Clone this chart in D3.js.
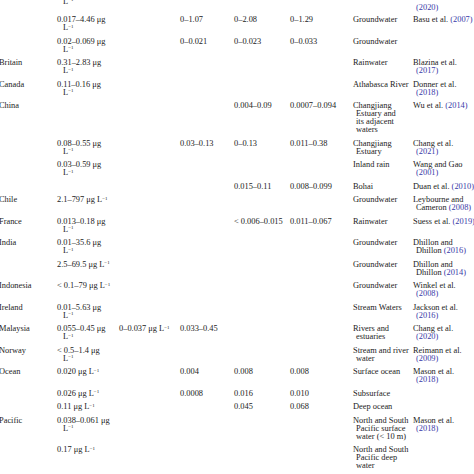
<!DOCTYPE html>
<html><head><meta charset="utf-8">
<script src="https://cdn.jsdelivr.net/npm/d3@7"></script>
<style>body{margin:0;background:#fff}svg text{font-family:"Liberation Serif","DejaVu Serif",serif;font-size:8.4px;fill:#222}</style>
</head><body><svg id="c" width="474" height="474"></svg>
<script>
// Table content: one entry per row, "|" separates wrapped lines
const countries = ["","","Britain","Canada","China","","","","Chile","France","India","","Indonesia","Ireland","Malaysia","Norway","Ocean","","","Pacific",""];
const totalRange = ["0.017–4.46 μg|L^-1","0.02–0.069 μg|L^-1","0.31–2.83 μg|L^-1","0.11–0.16 μg|L^-1","","0.08–0.55 μg|L^-1","0.03–0.59 μg|L^-1","","2.1–797 μg L^-1","0.013–0.18 μg|L^-1","0.01–35.6 μg|L^-1","2.5–69.5 μg L^-1","< 0.1–79 μg L^-1","0.01–5.63 μg|L^-1","0.055–0.45 μg|L^-1","< 0.5–1.4 μg|L^-1","0.020 μg L^-1","0.026 μg L^-1","0.11 μg L^-1","0.038–0.061 μg|L^-1","0.17 μg L^-1"];
const col2 = ["","","","","","","","","","","","","","","0–0.037 μg L^-1","","","","","",""];
const col3 = ["0–1.07","0–0.021","","","","0.03–0.13","","","","","","","","","0.033–0.45","","0.004","0.0008","","",""];
const col4 = ["0–2.08","0–0.023","","","0.004–0.09","0–0.13","","0.015–0.11","","< 0.006–0.015","","","","","","","0.008","0.016","0.045","",""];
const col5 = ["0–1.29","0–0.033","","","0.0007–0.094","0.011–0.38","","0.008–0.099","","0.011–0.067","","","","","","","0.008","0.010","0.068","",""];
const waters = ["Groundwater","Groundwater","Rainwater","Athabasca River","Changjiang|Estuary and|its adjacent|waters","Changjiang|Estuary","Inland rain","Bohai","Groundwater","Rainwater","Groundwater","Groundwater","Groundwater","Stream Waters","Rivers and|estuaries","Stream and river|water","Surface ocean","Subsurface","Deep ocean","North and South|Pacific surface|water (< 10 m)","North and South|Pacific deep|water"];
const refs = ["Basu et al. (2007)","","Blazina et al.|(2017)","Donner et al.|(2018)","Wu et al. (2014)","Chang et al.|(2021)","Wang and Gao|(2001)","Duan et al. (2010)","Leybourne and|Cameron (2008)","Suess et al. (2019)","Dhillon and|Dhillon (2016)","Dhillon and|Dhillon (2014)","Winkel et al.|(2008)","Jackson et al.|(2016)","Chang et al.|(2020)","Reimann et al.|(2009)","Mason et al.|(2018)","","","Mason et al.|(2018)",""];
const columns = [countries,totalRange,col2,col3,col4,col5,waters,refs];

const svg = d3.select("#c");
const colX = d3.scaleOrdinal().domain(d3.range(8)).range([-1,57,119,180,234,290,353,413]);
const indent = [3,6,3,3,3,3,3,3];
const lineH = 8, pad = 5.5;
const lines = s => s ? s.split("|") : [];
const nLines = totalRange.map((_, i) => d3.max(columns, c => lines(c[i]).length));
const rowY = []; let y = 19.3;
nLines.forEach((n, i) => { rowY.push(y); y += n * lineH + pad; });

function addLine(x, yy, str) {
  const t = svg.append("text").attr("x", x).attr("y", yy).attr("dy", "0.35em");
  const parts = str.split(/(L\^-1|\(\d{4}\))/);
  parts.forEach(p => {
    if (!p) return;
    if (p === "L^-1") {
      t.append("tspan").text("L");
      t.append("tspan").attr("dy", "-2.5").style("font-size", "5px").text("−1");
    } else if (/^\(\d{4}\)$/.test(p)) {
      t.append("tspan").style("fill", "#3a3aa8").text(p);
    } else t.append("tspan").text(p);
  });
}
// partial row at top (cut off)
addLine(colX(1) + 6, 1, "L^-1");
addLine(colX(7) + 3, 7, "(2020)");

columns.forEach((col, ci) => {
  col.forEach((cell, ri) => {
    lines(cell).forEach((ln, li) => {
      addLine(colX(ci) + (li > 0 ? indent[ci] : 0), rowY[ri] + li * lineH, ln);
    });
  });
});
</script></body></html>
